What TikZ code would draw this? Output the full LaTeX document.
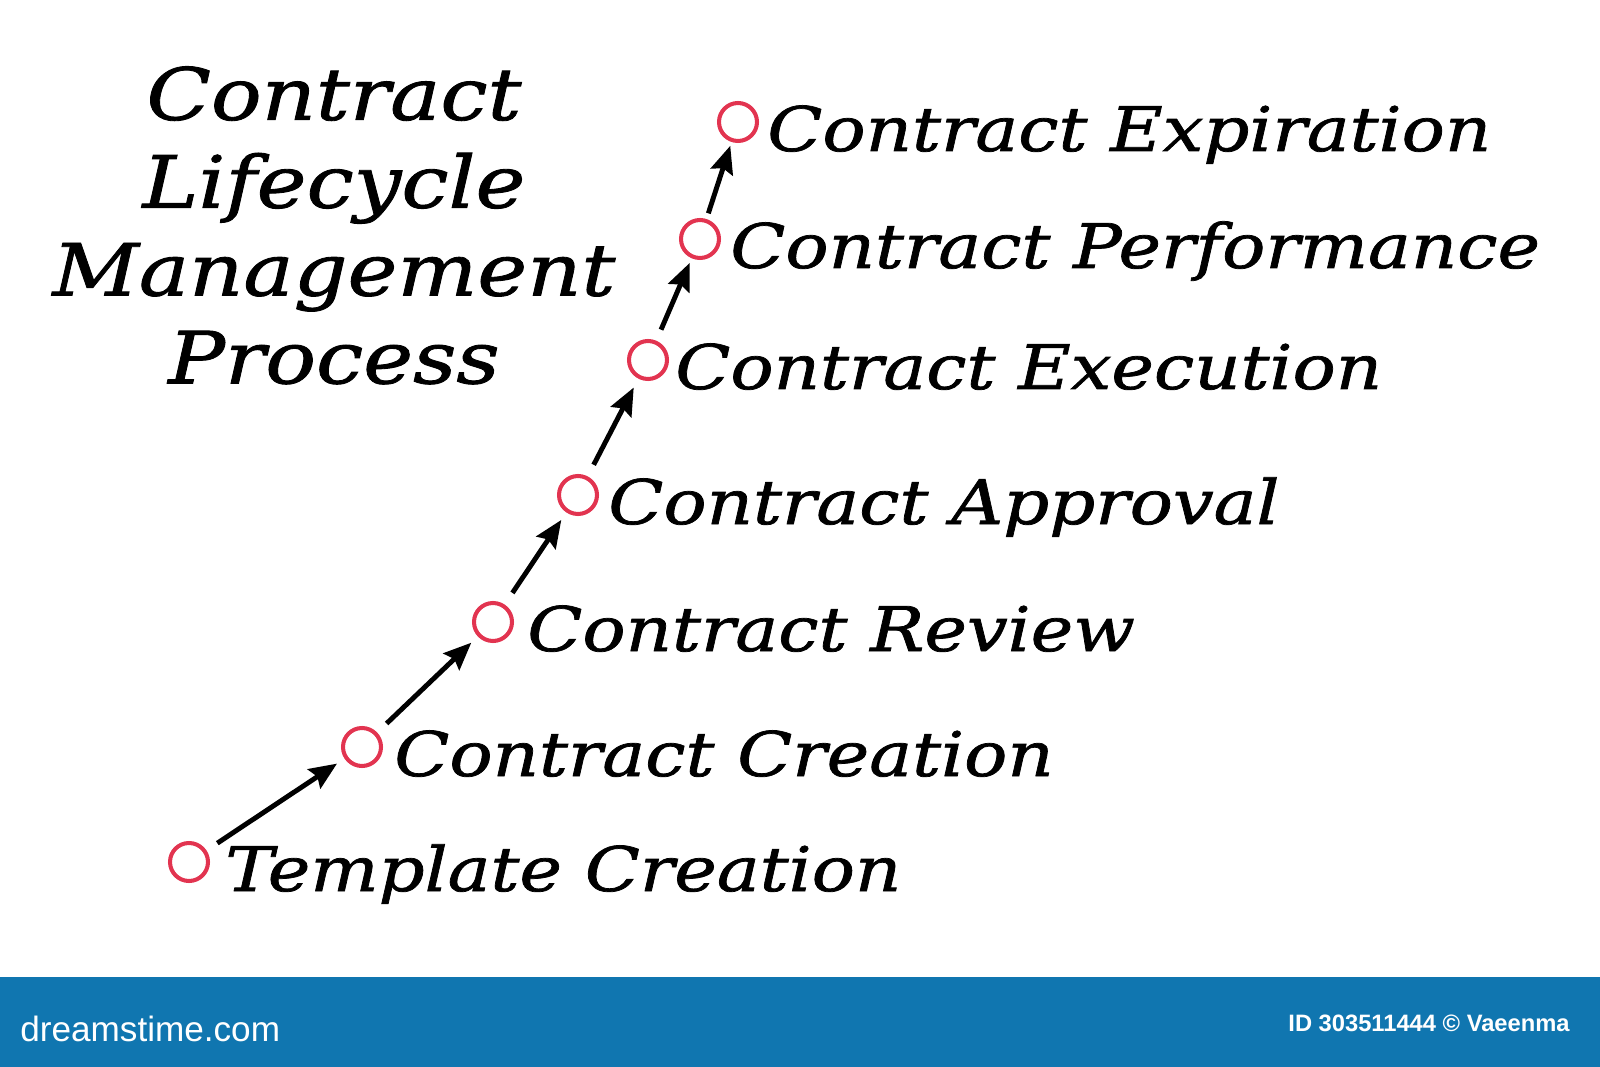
\documentclass[tikz,border=0pt]{standalone}
\usepackage{fontspec}
\setmainfont{DejaVu Serif}
\setsansfont{Liberation Sans}
\newfontfamily\handfont{DejaVu Serif}[FakeStretch=1.17, FakeBold=1.2]
\usetikzlibrary{calc,arrows.meta}
\definecolor{ringred}{RGB}{226,52,80}
\definecolor{bannerblue}{RGB}{16,118,176}

\begin{document}
\begin{tikzpicture}[x=0.02cm, y=-0.02cm,
	stage/.style={circle, draw=ringred, line width=2.3pt, minimum size=0.76cm, inner sep=0pt},
	stagetext/.style={anchor=base west, inner sep=0pt, font=\handfont\fontsize{35}{40}\selectfont\itshape},
	flow/.style={line width=2.8pt, -{Stealth[length=0.55cm, width=0.46cm, inset=0.08cm]}}]
		%%%%% START %%%%%
		
		\useasboundingbox (0, 0) rectangle (1600, 1067);
		
		% title
		\node[align=center, anchor=north, inner sep=0pt, font=\handfont\fontsize{41}{50}\selectfont\itshape] (title) at (334, 66) {Contract\\Lifecycle\\Management\\Process};
		
		% stages
		\node[stage] (s1) at (189, 862) {};
		\node[stage] (s2) at (362, 747) {};
		\node[stage] (s3) at (493, 622) {};
		\node[stage] (s4) at (578, 495) {};
		\node[stage] (s5) at (648, 360) {};
		\node[stage] (s6) at (700, 239) {};
		\node[stage] (s7) at (738, 122) {};
		
		\node[stagetext] (t1) at ($(s1)+(36, 29)$) {Template Creation};
		\node[stagetext] (t2) at ($(s2)+(32, 29)$) {Contract Creation};
		\node[stagetext] (t3) at ($(s3)+(34, 29)$) {Contract Review};
		\node[stagetext] (t4) at ($(s4)+(30, 29)$) {Contract Approval};
		\node[stagetext] (t5) at ($(s5)+(27, 29)$) {Contract Execution};
		\node[stagetext] (t6) at ($(s6)+(30, 29)$) {Contract Performance};
		\node[stagetext] (t7) at ($(s7)+(29, 29)$) {Contract Expiration};
		
		% arrows between stages
		\foreach \a/\b/\g/\h in {s1/s2/0.26/0.18, s2/s3/0.26/0.18, s3/s4/0.28/0.18, s4/s5/0.26/0.2, s5/s6/0.24/0.1, s6/s7/0.12/0.08}
			\draw[flow, shorten <=\g cm, shorten >=\h cm] (\a) -- (\b);
		
		% banner
		\fill[bannerblue] (0, 977) rectangle (1600, 1067);
		\node[anchor=west, inner sep=0pt, text=white, font=\sffamily\fontsize{20}{22}\selectfont] (site) at (20, 1029) {dreamstime.com};
		\node[anchor=east, inner sep=0pt, text=white, font=\sffamily\bfseries\fontsize{13.5}{16}\selectfont] (credit) at (1570, 1023) {ID 303511444 © Vaeenma};
		
		%%%%% END %%%%%
	\end{tikzpicture}
\end{document}
